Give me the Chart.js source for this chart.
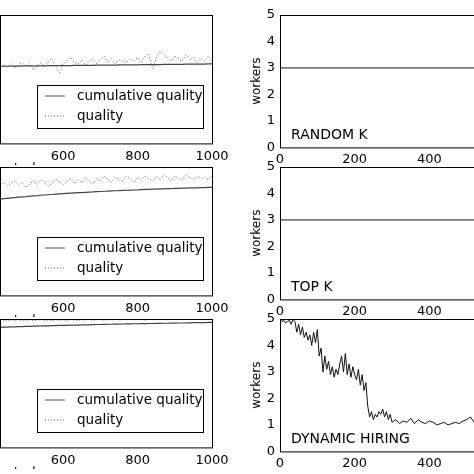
<!DOCTYPE html>
<html>
<head>
<meta charset="utf-8">
<script src="https://cdn.jsdelivr.net/npm/chart.js@4.4.0/dist/chart.umd.min.js"></script>
<style>
  html, body { margin: 0; padding: 0; background: #fff; overflow: hidden; width: 474px; height: 474px; }
  .panel { position: absolute; }
</style>
</head>
<body>
<div class="panel" style="left:0;top:5px;width:240px;height:160px"><canvas id="q1"></canvas></div>
<div class="panel" style="left:0;top:157px;width:240px;height:160px"><canvas id="q2"></canvas></div>
<div class="panel" style="left:0;top:309px;width:240px;height:160px"><canvas id="q3"></canvas></div>
<div class="panel" style="left:250px;top:5px;width:420px;height:162px"><canvas id="w1"></canvas></div>
<div class="panel" style="left:250px;top:157px;width:420px;height:162px"><canvas id="w2"></canvas></div>
<div class="panel" style="left:250px;top:309px;width:420px;height:162px"><canvas id="w3"></canvas></div>
<script>
// left column: quality per task (visible part 430..1000, step 10)
const qualityTasks = [430,440,450,460,470,480,490,500,510,520,530,540,550,560,570,580,590,600,610,620,630,640,650,660,670,680,690,700,710,720,730,740,750,760,770,780,790,800,810,820,830,840,850,860,870,880,890,900,910,920,930,940,950,960,970,980,990,1000];
const quality1 = [0.60,0.61,0.60,0.62,0.59,0.61,0.63,0.60,0.62,0.57,0.61,0.63,0.60,0.64,0.66,0.59,0.55,0.62,0.64,0.67,0.63,0.62,0.65,0.61,0.64,0.66,0.62,0.65,0.68,0.63,0.66,0.62,0.65,0.64,0.63,0.66,0.64,0.67,0.63,0.68,0.70,0.58,0.66,0.72,0.69,0.67,0.64,0.68,0.66,0.64,0.69,0.65,0.67,0.63,0.66,0.64,0.68,0.64];
const cumulative1 = [0.600,0.601,0.601,0.602,0.602,0.602,0.603,0.603,0.603,0.603,0.604,0.604,0.604,0.605,0.605,0.605,0.605,0.606,0.606,0.606,0.607,0.607,0.607,0.608,0.608,0.608,0.609,0.609,0.609,0.610,0.610,0.610,0.611,0.611,0.611,0.612,0.612,0.612,0.613,0.613,0.613,0.614,0.614,0.614,0.615,0.615,0.615,0.616,0.616,0.616,0.617,0.617,0.617,0.618,0.618,0.618,0.619,0.619];
const quality2 = [0.86,0.88,0.85,0.87,0.89,0.86,0.88,0.84,0.87,0.89,0.86,0.90,0.88,0.85,0.87,0.91,0.88,0.86,0.89,0.91,0.87,0.90,0.88,0.92,0.89,0.87,0.91,0.89,0.93,0.90,0.88,0.92,0.90,0.89,0.93,0.91,0.88,0.92,0.90,0.93,0.91,0.89,0.93,0.90,0.94,0.92,0.89,0.93,0.91,0.90,0.94,0.92,0.90,0.93,0.91,0.92,0.90,0.93];
const cumulative2 = [0.750,0.753,0.756,0.759,0.762,0.765,0.768,0.770,0.773,0.775,0.777,0.780,0.782,0.784,0.786,0.788,0.790,0.792,0.794,0.796,0.798,0.800,0.801,0.803,0.805,0.806,0.808,0.809,0.811,0.812,0.814,0.815,0.816,0.818,0.819,0.820,0.821,0.822,0.824,0.825,0.826,0.827,0.828,0.829,0.830,0.831,0.832,0.833,0.834,0.835,0.836,0.837,0.837,0.838,0.839,0.840,0.841,0.842];
const quality3 = [0.985,0.990,0.982,0.992,0.988,0.995,0.985,0.990,0.993,0.986,0.991,0.996,0.988,0.992,0.987,0.995,0.990,0.993,0.988,0.996,0.991,0.989,0.995,0.992,0.997,0.990,0.994,0.998,0.991,0.995,0.993,0.997,0.992,0.996,0.994,0.998,0.993,0.997,0.995,0.992,0.998,0.994,0.997,0.999,0.993,0.997,0.995,0.998,0.994,0.997,0.999,0.995,0.998,0.996,0.999,0.995,0.998,0.996];
const cumulative3 = [0.935,0.936,0.937,0.938,0.939,0.940,0.941,0.942,0.943,0.944,0.945,0.946,0.946,0.947,0.948,0.949,0.950,0.950,0.951,0.952,0.953,0.953,0.954,0.955,0.955,0.956,0.957,0.957,0.958,0.959,0.959,0.960,0.960,0.961,0.962,0.962,0.963,0.963,0.964,0.964,0.965,0.965,0.966,0.966,0.967,0.967,0.968,0.968,0.969,0.969,0.970,0.970,0.971,0.971,0.972,0.972,0.973,0.973];
const qualityTicks = [600, 800, 1000];

// right column: workers per task
const constTasks = [0, 1000];
const randomK = [3, 3];
const topK = [3, 3];
const hiringTasks = [0,5,10,15,20,25,30,35,40,45,50,55,60,65,70,75,80,85,90,95,100,105,110,115,120,125,130,135,140,145,150,155,160,165,170,175,180,185,190,195,200,205,210,215,220,225,230,235,240,245,250,255,260,265,270,275,280,285,290,295,300,310,320,330,340,350,360,370,380,390,400,410,420,430,440,450,460,470,480,490,500,510,520,530,540,550,560,570,580,590,600];
const hiring = [5.0,4.9,4.95,4.85,4.9,4.95,4.8,5.0,4.9,4.5,4.8,4.4,4.7,4.3,4.5,4.2,4.4,4.0,4.5,4.1,4.6,3.6,3.9,3.0,3.6,3.1,3.4,2.9,3.2,2.8,3.1,2.9,3.3,3.6,3.0,3.7,2.9,3.3,2.8,3.2,2.9,2.7,3.1,2.5,2.9,2.3,2.6,1.7,1.3,1.5,1.2,1.4,1.3,1.5,1.4,1.6,1.3,1.5,1.2,1.4,1.1,1.2,1.05,1.15,1.1,1.25,1.05,1.2,1.1,1.05,1.15,1.1,1.0,1.05,1.1,1.0,1.05,1.1,1.05,1.15,1.2,1.3,1.1,1.2,1.05,1.15,1.1,1.2,1.05,1.1,1.15];
const workerTicks = [0, 200, 400, 600, 800, 1000];

const font = { family: "DejaVu Sans", size: 13 };
Chart.defaults.color = "#000";
Chart.defaults.animation = false;

function pts(xs, ys) { return xs.map((x, i) => ({ x, y: ys[i] })); }

const boxPlugin = {
  id: "box",
  afterDraw(chart, args, opts) {
    const c = chart.ctx, a = chart.chartArea;
    c.save();
    c.strokeStyle = "#000";
    c.lineWidth = 1;
    c.strokeRect(a.left + 0.5, a.top + 0.5, a.width, a.height);
    c.fillStyle = "#000";
    if (opts.legend) {
      const x = a.left + 37, y = a.top + 70, w = 166, h = 43;
      c.fillStyle = "#fff";
      c.fillRect(x, y, w, h);
      c.strokeRect(x + 0.5, y + 0.5, w, h);
      c.fillStyle = "#000";
      c.strokeStyle = "#555";
      c.beginPath(); c.moveTo(x + 8, y + 11); c.lineTo(x + 28, y + 11); c.stroke();
      c.setLineDash([1, 2]);
      c.beginPath(); c.moveTo(x + 8, y + 31); c.lineTo(x + 28, y + 31); c.stroke();
      c.setLineDash([]);
      c.font = "13.5px DejaVu Sans";
      c.textBaseline = "middle";
      c.fillText("cumulative quality", x + 40, y + 11);
      c.fillText("quality", x + 40, y + 31);
    }
    if (opts.label) {
      c.font = "14px DejaVu Sans";
      c.textBaseline = "alphabetic";
      c.fillText(opts.label, a.left + 11, a.bottom - 8);
    }
    if (opts.tasksX !== undefined) {
      c.font = "12px DejaVu Sans";
      c.textBaseline = "top";
      c.fillText("tasks", opts.tasksX, a.bottom + 19);
    }
    c.restore();
  }
};

function qualityChart(id, q, cum) {
  new Chart(document.getElementById(id), {
    type: "line",
    data: {
      datasets: [
        { data: pts(qualityTasks, cum), borderColor: "#444", borderWidth: 1.2, pointRadius: 0 },
        { data: pts(qualityTasks, q), borderColor: "#666", borderWidth: 1, borderDash: [1, 2], pointRadius: 0, tension: 0 }
      ]
    },
    options: {
      responsive: true, maintainAspectRatio: false,
      layout: { padding: { left: 0, right: 28, top: 10, bottom: 0 } },
      scales: {
        x: {
          type: "linear", min: 430, max: 1000,
          afterBuildTicks: s => { s.ticks = qualityTicks.map(v => ({ value: v })); },
          ticks: { font, maxRotation: 0, padding: 1, callback: v => String(v) },
          grid: { display: false, tickLength: 4 },
          border: { display: false }
        },
        y: { min: 0, max: 1, display: false }
      },
      plugins: { legend: { display: false }, tooltip: { enabled: false }, box: { legend: true, tasksX: 14 } }
    },
    plugins: [boxPlugin]
  });
}

function workerChart(id, xs, ys, label) {
  new Chart(document.getElementById(id), {
    type: "line",
    data: { datasets: [{ data: pts(xs, ys), borderColor: "#111", borderWidth: 1, pointRadius: 0 }] },
    options: {
      responsive: true, maintainAspectRatio: false,
      layout: { padding: { left: 0, right: 10, top: 10, bottom: 0 } },
      scales: {
        x: {
          type: "linear", min: 0, max: 1000,
          afterBuildTicks: s => { s.ticks = workerTicks.map(v => ({ value: v })); },
          ticks: { font, maxRotation: 0, padding: 0, callback: v => String(v) },
          grid: { display: false, tickLength: 4 },
          border: { display: false }
        },
        y: {
          min: 0, max: 5,
          afterFit: s => { s.width = 30; },
          ticks: { font, stepSize: 1, padding: 2 },
          title: { display: true, text: "workers", font: { family: "DejaVu Sans", size: 12 }, padding: 0 },
          grid: { display: false, tickLength: 3 },
          border: { display: false }
        }
      },
      plugins: { legend: { display: false }, tooltip: { enabled: false }, box: { label } }
    },
    plugins: [boxPlugin]
  });
}

qualityChart("q1", quality1, cumulative1);
qualityChart("q2", quality2, cumulative2);
qualityChart("q3", quality3, cumulative3);
workerChart("w1", constTasks, randomK, "RANDOM K");
workerChart("w2", constTasks, topK, "TOP K");
workerChart("w3", hiringTasks, hiring, "DYNAMIC HIRING");
</script>
</body>
</html>
